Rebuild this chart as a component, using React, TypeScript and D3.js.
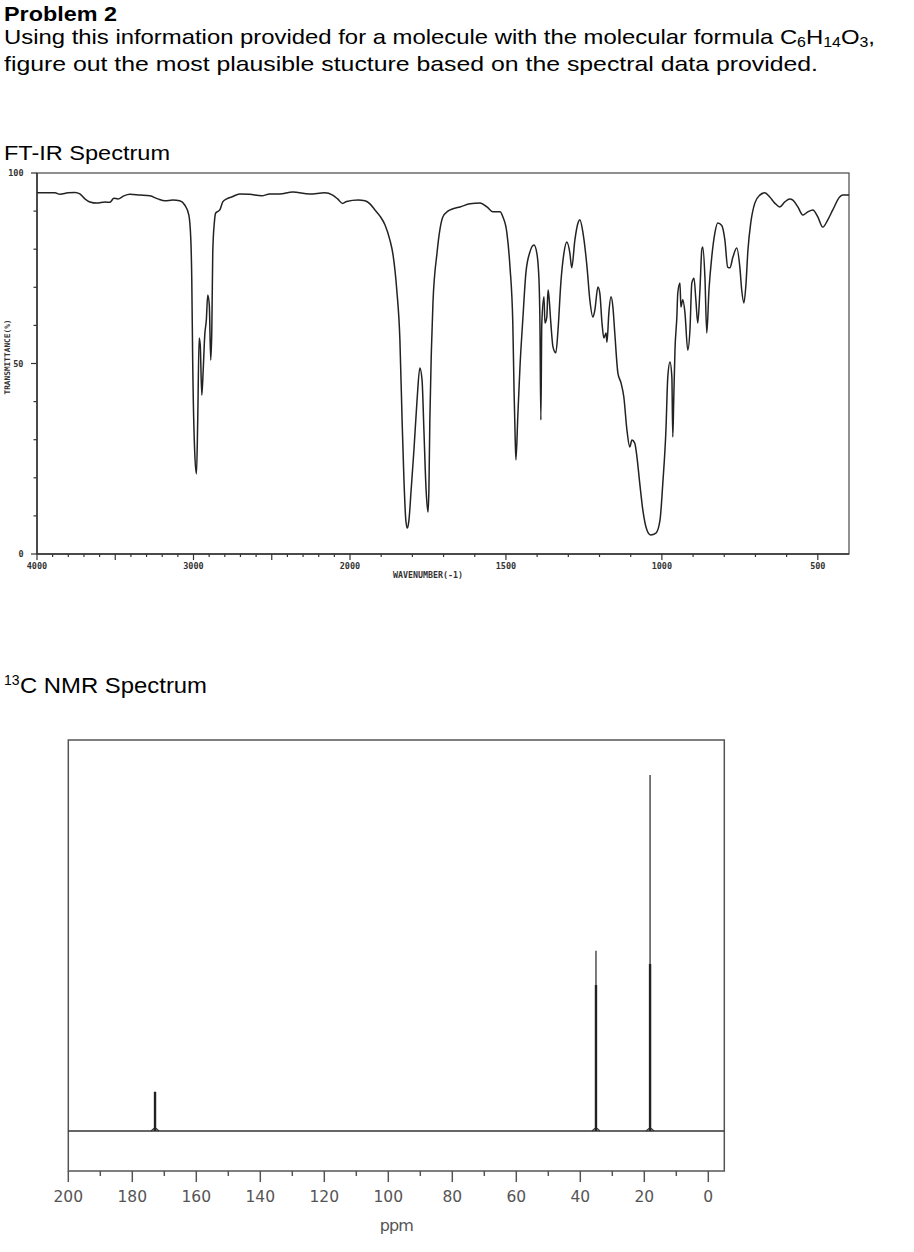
import React from "react";
import * as d3 from "d3";

// ---------- FT-IR data ----------
const irWavenumber = [
  4000,3885,3853,3802,3757,3726,3694,3662,3617,3566,
  3534,3509,3483,3445,3407,3343,3279,3228,3183,3132,
  3088,3056,3030,3017,3011,3005,2992,2981,2973,2964,
  2957,2947,2938,2928,2918,2909,2899,2890,2883,2877,
  2867,2858,2832,2813,2788,2756,2705,2641,2564,2513,
  2449,2366,2258,2162,2111,2079,2047,2022,1974,1952,
  1936,1920,1904,1888,1872,1862,1850,1840,1833,1827,
  1821,1816,1811,1804,1795,1785,1776,1769,1763,1756,
  1750,1747,1744,1739,1734,1721,1712,1702,1686,1670,
  1647,1615,1583,1561,1542,1519,1510,1497,1487,1478,
  1474,1471,1468,1462,1455,1446,1436,1423,1410,1401,
  1394,1391,1388,1385,1378,1375,1369,1365,1362,1356,
  1349,1340,1333,1324,1314,1305,1295,1289,1279,1269,
  1263,1253,1240,1231,1221,1215,1205,1199,1192,1186,
  1179,1176,1170,1163,1157,1151,1141,1131,1122,1112,
  1103,1096,1087,1080,1071,1061,1048,1036,1019,1006,
  997,987,981,974,968,965,962,958,952,949,
  942,939,933,926,917,910,904,897,891,885,
  878,872,869,862,856,849,840,830,821,808,
  798,789,782,772,760,750,744,737,731,724,
  715,702,686,670,654,638,622,606,590,580,
  564,548,532,516,500,484,468,452,430,420,
  400,
];
const irTransmittance = [
  94.8,94.8,94.4,94.8,94.9,94.5,93.2,92.4,92.1,92.4,
  92.3,93.4,93.2,94.0,94.4,94.2,94.0,93.2,92.7,92.9,
  92.7,91.6,89.0,82.4,71.9,50.1,26.5,21.0,35.2,56.7,
  54.9,41.7,48.3,57.5,61.4,68.0,65.4,50.9,58.8,79.0,
  86.9,89.5,90.3,92.4,93.2,93.7,94.5,94.4,94.0,94.5,
  94.5,95.0,94.5,94.8,94.2,93.2,92.0,92.5,92.9,92.7,
  91.9,90.3,88.7,86.4,82.4,78.5,69.3,56.2,35.2,19.4,
  8.9,6.8,8.9,16.8,27.3,40.4,48.8,45.7,32.5,16.8,
  11.0,16.8,35.2,53.5,65.9,79.0,85.0,88.5,90.0,90.6,
  91.1,91.9,92.1,91.1,89.8,89.8,88.5,84.3,75.3,60.6,
  43.0,32.5,24.7,36.0,49.1,61.4,73.8,79.3,81.1,79.0,
  71.9,60.6,35.2,60.6,67.5,60.6,62.2,69.3,67.5,60.6,
  54.3,52.8,58.8,71.1,79.0,81.9,79.0,75.1,82.4,86.9,
  87.7,84.3,75.3,66.7,62.2,64.0,70.1,68.5,60.6,56.7,
  58.0,55.6,63.3,67.5,64.8,58.0,47.5,44.9,41.2,32.5,
  28.1,29.9,29.1,25.5,18.6,11.5,6.3,5.0,5.5,8.9,
  18.6,32.5,46.5,50.4,46.5,30.7,40.4,53.5,62.2,68.5,
  71.1,64.8,66.7,63.3,53.5,58.8,71.1,72.4,66.7,60.6,
  69.3,79.8,80.6,72.7,58.0,69.3,78.0,84.3,86.9,86.2,
  82.4,75.3,75.1,78.0,80.3,75.3,69.3,65.9,70.1,79.8,
  86.9,92.1,94.2,94.8,93.7,92.1,91.1,92.4,93.2,92.9,
  91.1,89.0,89.8,90.3,88.5,85.8,87.7,90.3,93.7,94.2,
  94.2,
];
const irXTickLabels = [4000, 3000, 2000, 1500, 1000, 500];
const irYTickLabels = [100, 50, 0];

// ---------- 13C NMR data ----------
const nmrShift = [172.9, 35.1, 18.2];
const nmrIntensity = [11, 50.6, 100];
const nmrBaseIntensity = [11, 41, 46.9];
const nmrTickLabels = [200, 180, 160, 140, 120, 100, 80, 60, 40, 20, 0];

const HEAD = "'Liberation Sans', Arial, Helvetica, sans-serif";
const MONO = "'DejaVu Sans Mono', monospace";

export default function App() {
  // IR scales
  const ix = d3.scaleLinear().domain([4000, 2000, 400]).range([37, 350, 849]);
  const iy = d3.scaleLinear().domain([0, 100]).range([554, 173]);
  const irPts: [number, number][] = irWavenumber.map((w, i) => [ix(w), iy(irTransmittance[i])]);
  const irPath = d3.line().curve(d3.curveMonotoneX)(irPts) || "";
  const irMinor = d3.range(4000, 499, -100);
  const irYMinor = d3.range(0, 101, 10);

  // NMR scales
  const nx = d3.scaleLinear().domain([200, 0]).range([68.3, 708.3]);
  const nLeft = nx(200), nRight = nx(-5);
  const nTop = 740, nAxis = 1171, nBase = 1131;
  const ny = d3.scaleLinear().domain([0, 100]).range([nBase, 775]);
  const nMinor = d3.range(200, -1, -10);

  return (
    <svg width={914} height={1252} style={{ position: "absolute", left: 0, top: 0, display: "block", background: "#fff" }}>
      <rect x={0} y={0} width={914} height={1252} fill="#fff" />
      {/* Header text */}
      <text x={4} y={20.5} fontFamily={HEAD} fontWeight="bold" fontSize={21} textLength={113} lengthAdjust="spacingAndGlyphs" fill="#000">Problem 2</text>
      <text x={4} y={44} fontFamily={HEAD} fontSize={21} textLength={871} lengthAdjust="spacingAndGlyphs" fill="#000">
        Using this information provided for a molecule with the molecular formula C<tspan fontSize={14} dy={2.5}>6</tspan><tspan dy={-2.5}>H</tspan><tspan fontSize={14} dy={2.5}>14</tspan><tspan dy={-2.5}>O</tspan><tspan fontSize={14} dy={2.5}>3</tspan><tspan dy={-2.5}>,</tspan>
      </text>
      <text x={4} y={70.5} fontFamily={HEAD} fontSize={21} textLength={814} lengthAdjust="spacingAndGlyphs" fill="#000">figure out the most plausible stucture based on the spectral data provided.</text>
      <text x={4} y={160} fontFamily={HEAD} fontSize={21} textLength={166} lengthAdjust="spacingAndGlyphs" fill="#000">FT-IR Spectrum</text>

      {/* IR chart */}
      <g>
        <rect x={37} y={173} width={849 - 37} height={554 - 173} fill="none" stroke="#555" strokeWidth={1.3} />
        <line x1={37} y1={173} x2={37} y2={554} stroke="#333" strokeWidth={1.5} />
        <line x1={37} y1={554} x2={849} y2={554} stroke="#333" strokeWidth={1.5} />
        {irMinor.map((w) => (
          <line key={"ixt" + w} x1={ix(w)} x2={ix(w)} y1={554} y2={w % 500 === 0 ? 560 : 557} stroke="#333" strokeWidth={1.2} />
        ))}
        {irYMinor.map((t) => (
          <line key={"iyt" + t} x1={t % 50 === 0 ? 31 : 33.5} x2={37} y1={iy(t)} y2={iy(t)} stroke="#333" strokeWidth={1.2} />
        ))}
        {irXTickLabels.map((w) => (
          <text key={"ixl" + w} x={ix(w)} y={569} textAnchor="middle" fontFamily={MONO} fontWeight="bold" fontSize={8.5} fill="#333">{w}</text>
        ))}
        {irYTickLabels.map((t) => (
          <text key={"iyl" + t} x={23.5} y={iy(t) + 3} textAnchor="end" fontFamily={MONO} fontWeight="bold" fontSize={8.5} fill="#333">{t}</text>
        ))}
        <text x={428} y={578} textAnchor="middle" fontFamily={MONO} fontWeight="bold" fontSize={8.3} fill="#333">WAVENUMBER(-1)</text>
        <text transform={`translate(10,${357}) rotate(-90)`} textAnchor="middle" fontFamily={MONO} fontWeight="bold" fontSize={7.8} fill="#333">TRANSMITTANCE(%)</text>
        <path d={irPath} fill="none" stroke="#222" strokeWidth={1.5} strokeLinejoin="round" />
      </g>

      {/* NMR title */}
      <text x={4} y={685} fontFamily={HEAD} fontSize={14} fill="#000">13</text>
      <text x={20} y={693} fontFamily={HEAD} fontSize={22} textLength={187} lengthAdjust="spacingAndGlyphs" fill="#000">C NMR Spectrum</text>

      {/* NMR chart */}
      <g>
        <rect x={nLeft} y={nTop} width={nRight - nLeft} height={nAxis - nTop} fill="none" stroke="#555" strokeWidth={1.5} />
        <line x1={nLeft} x2={nRight} y1={nBase} y2={nBase} stroke="#333" strokeWidth={1.3} />
        {nMinor.map((p) => (
          <line key={"nt" + p} x1={nx(p)} x2={nx(p)} y1={nAxis} y2={p % 20 === 0 ? 1182 : 1176} stroke="#555" strokeWidth={1.5} />
        ))}
        {nmrTickLabels.map((p) => (
          <text key={"nl" + p} x={nx(p)} y={1201.5} textAnchor="middle" fontFamily="'DejaVu Sans', Verdana, sans-serif" fontSize={15.5} fill="#555">{p}</text>
        ))}
        <text x={(nLeft + nRight) / 2} y={1230.5} textAnchor="middle" fontFamily="'DejaVu Sans', Verdana, sans-serif" fontSize={16} fill="#555" letterSpacing={-1}>ppm</text>
        {nmrShift.map((s, i) => {
          const cx = nx(s);
          return (
            <g key={"pk" + s}>
              <path d={`M${cx - 4},${nBase} L${cx - 1.2},${nBase - 2.5} L${cx + 1.2},${nBase - 2.5} L${cx + 4},${nBase}`} fill="none" stroke="#333" strokeWidth={1.2} />
              <line x1={cx} x2={cx} y1={nBase} y2={ny(nmrIntensity[i])} stroke="#333" strokeWidth={1.3} />
              <line x1={cx} x2={cx} y1={nBase} y2={ny(nmrBaseIntensity[i])} stroke="#222" strokeWidth={2.4} />
            </g>
          );
        })}
      </g>
    </svg>
  );
}
